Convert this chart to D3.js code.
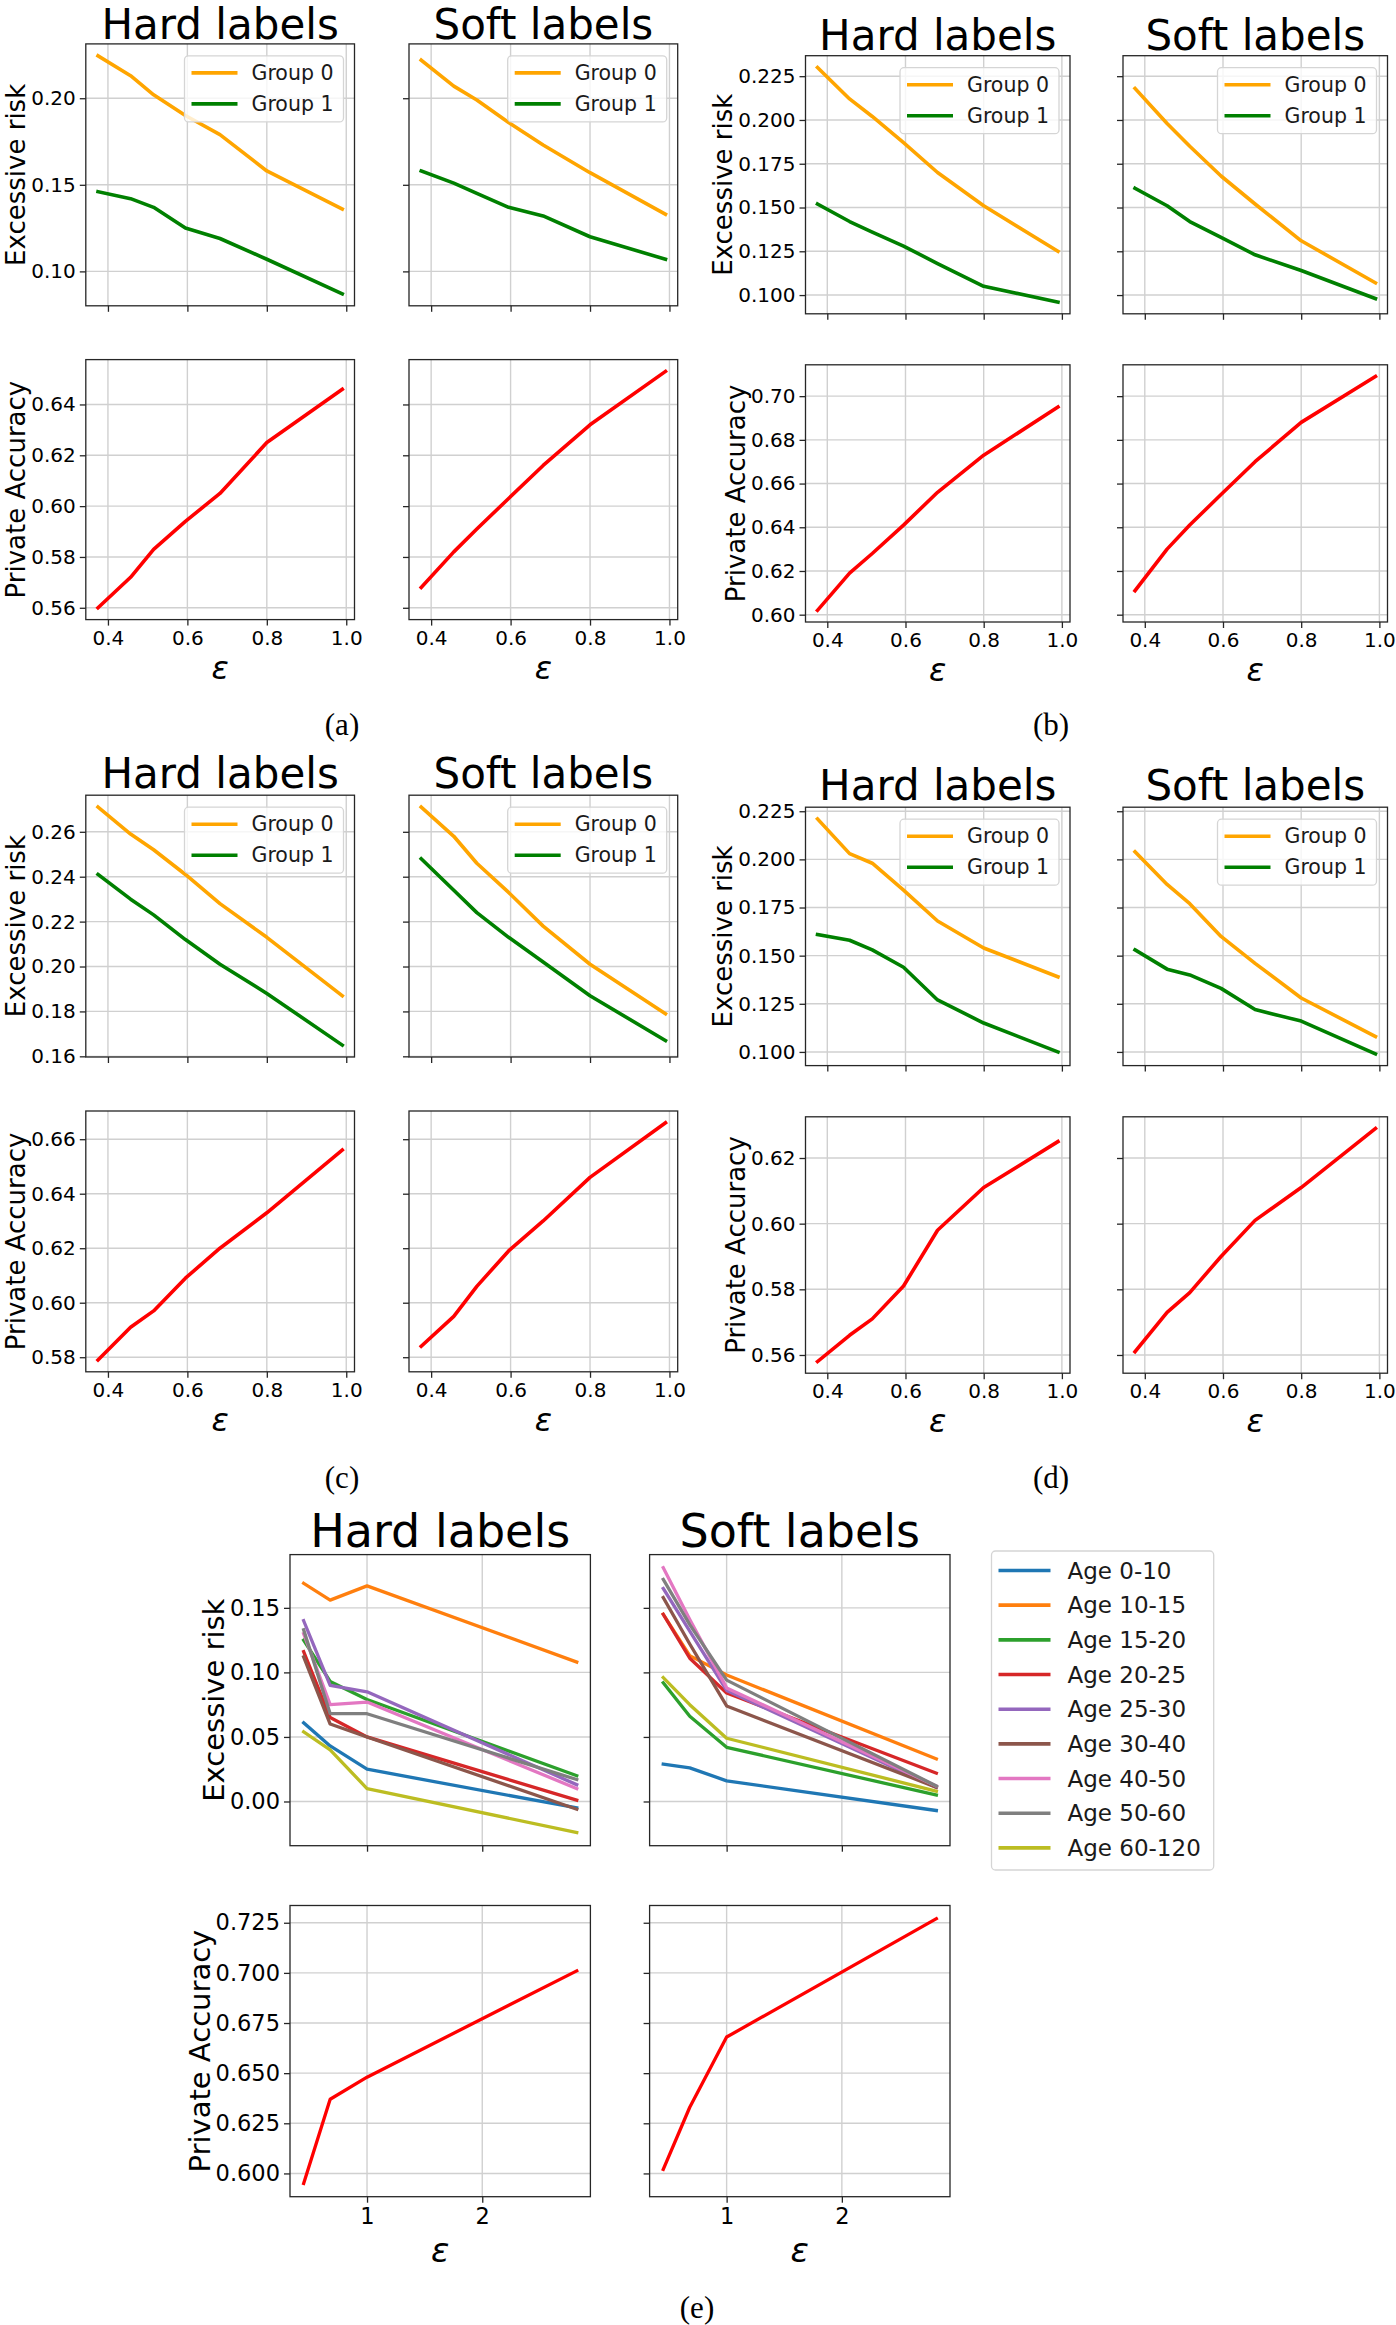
<!DOCTYPE html>
<html><head><meta charset="utf-8">
<script src="https://cdn.jsdelivr.net/npm/d3@7"></script>
<style>body{margin:0;background:#fff}</style>
</head><body>
<svg id="chart" width="1396" height="2325" xmlns="http://www.w3.org/2000/svg"></svg>
<script>
// ================= DATA =================
const epsilonAD = [0.375, 0.457, 0.515, 0.595, 0.682, 0.8, 0.99];
const xTickValuesAD = [0.4, 0.6, 0.8, 1.0];
const groupNames = ["Group 0", "Group 1"];

// (a)
const aHardG0 = [0.2245, 0.213, 0.202, 0.190, 0.179, 0.158, 0.136];
const aHardG1 = [0.146, 0.142, 0.137, 0.125, 0.119, 0.107, 0.087];
const aSoftG0 = [0.222, 0.207, 0.199, 0.186, 0.173, 0.157, 0.133];
const aSoftG1 = [0.158, 0.151, 0.145, 0.137, 0.132, 0.120, 0.107];
const aHardAcc = [0.560, 0.572, 0.583, 0.594, 0.605, 0.625, 0.646];
const aSoftAcc = [0.568, 0.582, 0.591, 0.603, 0.616, 0.632, 0.653];
const aRiskTicks = [0.10, 0.15, 0.20];
const aAccTicks = [0.56, 0.58, 0.60, 0.62, 0.64];

// (b)
const bHardG0 = [0.230, 0.212, 0.202, 0.187, 0.170, 0.151, 0.125];
const bHardG1 = [0.152, 0.142, 0.136, 0.128, 0.118, 0.105, 0.096];
const bSoftG0 = [0.218, 0.198, 0.185, 0.168, 0.152, 0.131, 0.107];
const bSoftG1 = [0.161, 0.151, 0.142, 0.133, 0.123, 0.114, 0.098];
const bHardAcc = [0.602, 0.619, 0.628, 0.641, 0.656, 0.673, 0.695];
const bSoftAcc = [0.611, 0.630, 0.641, 0.655, 0.670, 0.688, 0.709];
const bRiskTicks = [0.100, 0.125, 0.150, 0.175, 0.200, 0.225];
const bAccTicks = [0.60, 0.62, 0.64, 0.66, 0.68, 0.70];

// (c)
const cHardG0 = [0.271, 0.259, 0.252, 0.241, 0.228, 0.213, 0.187];
const cHardG1 = [0.241, 0.230, 0.223, 0.212, 0.201, 0.188, 0.165];
const cSoftG0 = [0.271, 0.258, 0.246, 0.233, 0.218, 0.201, 0.179];
const cSoftG1 = [0.248, 0.234, 0.224, 0.213, 0.202, 0.187, 0.167];
const cHardAcc = [0.579, 0.591, 0.597, 0.609, 0.620, 0.633, 0.656];
const cSoftAcc = [0.584, 0.595, 0.606, 0.619, 0.630, 0.646, 0.666];
const cRiskTicks = [0.16, 0.18, 0.20, 0.22, 0.24, 0.26];
const cAccTicks = [0.58, 0.60, 0.62, 0.64, 0.66];

// (d)
const dHardG0 = [0.221, 0.203, 0.198, 0.184, 0.168, 0.154, 0.139];
const dHardG1 = [0.161, 0.158, 0.153, 0.144, 0.127, 0.115, 0.100];
const dSoftG0 = [0.204, 0.187, 0.177, 0.160, 0.146, 0.128, 0.108];
const dSoftG1 = [0.153, 0.143, 0.140, 0.133, 0.122, 0.116, 0.099];
const dHardAcc = [0.558, 0.566, 0.571, 0.581, 0.598, 0.611, 0.625];
const dSoftAcc = [0.561, 0.573, 0.579, 0.590, 0.601, 0.611, 0.629];
const dRiskTicks = [0.100, 0.125, 0.150, 0.175, 0.200, 0.225];
const dAccTicks = [0.56, 0.58, 0.60, 0.62];

// (e)
const epsilonE = [0.45, 0.68, 1.0, 2.82];
const xTickValuesE = [1, 2];
const ageGroups = ["Age 0-10", "Age 10-15", "Age 15-20", "Age 20-25", "Age 25-30",
                   "Age 30-40", "Age 40-50", "Age 50-60", "Age 60-120"];
const eHardRisk = [
  [0.061, 0.043, 0.025, -0.005],
  [0.169, 0.156, 0.167, 0.108],
  [0.125, 0.093, 0.079, 0.020],
  [0.116, 0.065, 0.050, 0.001],
  [0.140, 0.090, 0.085, 0.013],
  [0.112, 0.060, 0.050, -0.006],
  [0.130, 0.075, 0.077, 0.010],
  [0.133, 0.068, 0.068, 0.017],
  [0.054, 0.040, 0.010, -0.024]
];
const eSoftRisk = [
  [0.029, 0.026, 0.016, -0.007],
  [0.145, 0.113, 0.098, 0.033],
  [0.092, 0.066, 0.042, 0.005],
  [0.145, 0.111, 0.084, 0.022],
  [0.165, 0.132, 0.086, 0.011],
  [0.158, 0.122, 0.074, 0.011],
  [0.181, 0.141, 0.088, 0.012],
  [0.172, 0.137, 0.094, 0.012],
  [0.096, 0.075, 0.049, 0.008]
];
const eHardAcc = [0.595, 0.637, 0.648, 0.701];
const eSoftAcc = [0.602, 0.633, 0.668, 0.727];
const eRiskTicks = [0.00, 0.05, 0.10, 0.15];
const eAccTicks = [0.600, 0.625, 0.650, 0.675, 0.700, 0.725];

// ================= STYLE =================
const groupColors = ["orange", "green"];
const accColor = "red";
const ageColors = ["#1f77b4", "#ff7f0e", "#2ca02c", "#d62728", "#9467bd",
                   "#8c564b", "#e377c2", "#7f7f7f", "#bcbd22"];
const FONT = "'DejaVu Sans', sans-serif";
const SERIF = "'Liberation Serif', 'Times New Roman', serif";
const GRID = "#d0d0d0";
const SPINE = "#262626";

const svg = d3.select("#chart");

function padDomain(arrays) {
  const all = arrays.flat();
  const lo = d3.min(all), hi = d3.max(all);
  const m = (hi - lo) * 0.05;
  return [lo - m, hi + m];
}

function drawSubplot(cfg) {
  const g = svg.append("g");
  const b = cfg.box;
  const x = d3.scaleLinear().domain(cfg.xDom).range([b.x, b.x + b.w]);
  const y = d3.scaleLinear().domain(cfg.yDom).range([b.y + b.h, b.y]);

  // grid
  g.append("g").selectAll("line").data(cfg.xTicks).join("line")
    .attr("x1", d => x(d)).attr("x2", d => x(d))
    .attr("y1", b.y).attr("y2", b.y + b.h)
    .attr("stroke", GRID).attr("stroke-width", 1.4);
  g.append("g").selectAll("line").data(cfg.yTicks).join("line")
    .attr("y1", d => y(d)).attr("y2", d => y(d))
    .attr("x1", b.x).attr("x2", b.x + b.w)
    .attr("stroke", GRID).attr("stroke-width", 1.4);

  // lines
  const line = d3.line().x((d, i) => x(cfg.xs[i])).y(d => y(d));
  g.append("g").selectAll("path").data(cfg.series).join("path")
    .attr("d", s => line(s.values))
    .attr("fill", "none")
    .attr("stroke", s => s.color)
    .attr("stroke-width", cfg.lw)
    .attr("stroke-linejoin", "round")
    .attr("stroke-linecap", "square");

  // spines
  g.append("rect").attr("x", b.x).attr("y", b.y).attr("width", b.w).attr("height", b.h)
    .attr("fill", "none").attr("stroke", SPINE).attr("stroke-width", 1.3);

  // axes
  const xa = d3.axisBottom(x).tickValues(cfg.xTicks).tickSize(6).tickPadding(5)
    .tickFormat(cfg.showX ? cfg.xFmt : () => "");
  const gx = g.append("g").attr("transform", `translate(0,${b.y + b.h})`).call(xa);
  gx.select(".domain").remove();
  gx.selectAll("line").attr("stroke", SPINE).attr("stroke-width", 1.3);
  gx.selectAll("text").attr("font-size", cfg.tickFs).attr("font-family", FONT).attr("fill", "#000");

  const ya = d3.axisLeft(y).tickValues(cfg.yTicks).tickSize(6).tickPadding(4)
    .tickFormat(cfg.showY ? cfg.yFmt : () => "");
  const gy = g.append("g").attr("transform", `translate(${b.x},0)`).call(ya);
  gy.select(".domain").remove();
  gy.selectAll("line").attr("stroke", SPINE).attr("stroke-width", 1.3);
  gy.selectAll("text").attr("font-size", cfg.tickFs).attr("font-family", FONT).attr("fill", "#000");

  if (cfg.ylabel) {
    const bb = gy.node().getBBox();
    const bx = b.x + bb.x - 6;
    g.append("text")
      .attr("transform", `translate(${bx},${b.y + b.h / 2}) rotate(-90)`)
      .attr("text-anchor", "middle")
      .attr("font-family", FONT).attr("font-size", cfg.ylabelFs)
      .text(cfg.ylabel);
  }
  if (cfg.title) {
    g.append("text").attr("x", b.x + b.w / 2).attr("y", cfg.titleY)
      .attr("text-anchor", "middle").attr("font-family", FONT).attr("font-size", cfg.titleFs)
      .text(cfg.title);
  }
  if (cfg.xlabel) {
    g.append("text").attr("x", b.x + b.w / 2).attr("y", b.y + b.h + cfg.xlabelOff)
      .attr("text-anchor", "middle").attr("dy", "0.35em")
      .attr("font-family", FONT).attr("font-style", "italic").attr("font-size", cfg.xlabelFs)
      .text("ε");
  }
  return g;
}

function drawLegend(lx, ly, lw, lh, items, fs, rowTop, rowStep, sx0, sx1, tx) {
  const g = svg.append("g");
  g.append("rect").attr("x", lx).attr("y", ly).attr("width", lw).attr("height", lh)
    .attr("rx", 4).attr("fill", "#fff").attr("fill-opacity", 0.8)
    .attr("stroke", "#d5d5d5").attr("stroke-width", 1.3);
  const row = g.selectAll("g").data(items).join("g")
    .attr("transform", (d, i) => `translate(${lx},${ly + rowTop + i * rowStep})`);
  row.append("line").attr("x1", sx0).attr("x2", sx1).attr("y1", 0).attr("y2", 0)
    .attr("stroke", d => d.color).attr("stroke-width", 3.6);
  row.append("text").attr("x", tx).attr("y", 0).attr("dy", "0.35em")
    .attr("font-family", FONT).attr("font-size", fs).attr("fill", "#1a1a1a")
    .text(d => d.name);
}

// ============ panels (a)-(d) ============
const panelsAD = [
  {letter: "(a)", hard: [aHardG0, aHardG1], soft: [aSoftG0, aSoftG1], hardAcc: aHardAcc, softAcc: aSoftAcc,
   riskTicks: aRiskTicks, accTicks: aAccTicks, riskFmt: ".2f", accFmt: ".2f",
   hx: 85.8, sx: 409, w: 268.7, topY: 43.9, topH: 261.9, botY: 359.6, botH: 260, titleY: 38.7, letterPos: [342, 724]},
  {letter: "(b)", hard: [bHardG0, bHardG1], soft: [bSoftG0, bSoftG1], hardAcc: bHardAcc, softAcc: bSoftAcc,
   riskTicks: bRiskTicks, accTicks: bAccTicks, riskFmt: ".3f", accFmt: ".2f",
   hx: 805.5, sx: 1123, w: 264.5, topY: 55.7, topH: 258.1, botY: 364.8, botH: 257.2, titleY: 49.5, letterPos: [1051, 724]},
  {letter: "(c)", hard: [cHardG0, cHardG1], soft: [cSoftG0, cSoftG1], hardAcc: cHardAcc, softAcc: cSoftAcc,
   riskTicks: cRiskTicks, accTicks: cAccTicks, riskFmt: ".2f", accFmt: ".2f",
   hx: 85.8, sx: 409, w: 268.7, topY: 795.2, topH: 261.8, botY: 1111, botH: 260.8, titleY: 788, letterPos: [342, 1477]},
  {letter: "(d)", hard: [dHardG0, dHardG1], soft: [dSoftG0, dSoftG1], hardAcc: dHardAcc, softAcc: dSoftAcc,
   riskTicks: dRiskTicks, accTicks: dAccTicks, riskFmt: ".3f", accFmt: ".2f",
   hx: 805.5, sx: 1123, w: 264.5, topY: 807.2, topH: 258.4, botY: 1116.8, botH: 256.4, titleY: 800, letterPos: [1051, 1477]}
];

panelsAD.forEach(p => {
  const xDom = padDomain([epsilonAD]);
  const riskDom = padDomain([...p.hard, ...p.soft]);
  const accDom = padDomain([p.hardAcc, p.softAcc]);
  const common = {xs: epsilonAD, xDom, xTicks: xTickValuesAD, xFmt: d3.format(".1f"),
                  lw: 3.6, tickFs: 20, ylabelFs: 26, titleFs: 42, xlabelFs: 32, xlabelOff: 48};
  const mkSeries = arr => arr.map((v, i) => ({values: v, color: groupColors[i]}));
  [["hard", p.hx, "Hard labels", true], ["soft", p.sx, "Soft labels", false]].forEach(([k, bx, title, left]) => {
    drawSubplot({...common, box: {x: bx, y: p.topY, w: p.w, h: p.topH}, yDom: riskDom,
      yTicks: p.riskTicks, yFmt: d3.format(p.riskFmt), showX: false, showY: left,
      series: mkSeries(p[k]), ylabel: left ? "Excessive risk" : null, title, titleY: p.titleY});
    drawSubplot({...common, box: {x: bx, y: p.botY, w: p.w, h: p.botH}, yDom: accDom,
      yTicks: p.accTicks, yFmt: d3.format(p.accFmt), showX: true, showY: left,
      series: [{values: k === "hard" ? p.hardAcc : p.softAcc, color: accColor}],
      ylabel: left ? "Private Accuracy" : null, xlabel: true});
    const lwid = 159, lhgt = 66;
    drawLegend(bx + p.w - 11 - lwid, p.topY + 12, lwid, lhgt,
      groupNames.map((n, i) => ({name: n, color: groupColors[i]})), 20.5, 17, 31, 7, 53, 67);
  });
  svg.append("text").attr("x", p.letterPos[0]).attr("y", p.letterPos[1]).attr("dy", "0.35em")
    .attr("text-anchor", "middle").attr("font-family", SERIF).attr("font-size", 31).text(p.letter);
});

// ============ panel (e) ============
{
  const xDom = padDomain([epsilonE]);
  const riskDom = padDomain([...eHardRisk, ...eSoftRisk]);
  const accDom = padDomain([eHardAcc, eSoftAcc]);
  const common = {xs: epsilonE, xDom, xTicks: xTickValuesE, xFmt: d3.format("d"),
                  lw: 3.3, tickFs: 22.5, ylabelFs: 29, titleFs: 46, xlabelFs: 34, xlabelOff: 53};
  const boxes = [[290, true, "Hard labels", eHardRisk, eHardAcc], [649.6, false, "Soft labels", eSoftRisk, eSoftAcc]];
  boxes.forEach(([bx, left, title, risk, acc]) => {
    drawSubplot({...common, box: {x: bx, y: 1554.6, w: 300.4, h: 291.1}, yDom: riskDom,
      yTicks: eRiskTicks, yFmt: d3.format(".2f"), showX: false, showY: left,
      series: risk.map((v, i) => ({values: v, color: ageColors[i]})),
      ylabel: left ? "Excessive risk" : null, title, titleY: 1547});
    drawSubplot({...common, box: {x: bx, y: 1905.5, w: 300.4, h: 291.2}, yDom: accDom,
      yTicks: eAccTicks, yFmt: d3.format(".3f"), showX: true, showY: left,
      series: [{values: acc, color: accColor}],
      ylabel: left ? "Private Accuracy" : null, xlabel: true});
  });
  drawLegend(991.5, 1551, 222.2, 319, ageGroups.map((n, i) => ({name: n, color: ageColors[i]})),
    23, 19.5, 34.67, 7, 59, 76);
  svg.append("text").attr("x", 697).attr("y", 2307).attr("dy", "0.35em")
    .attr("text-anchor", "middle").attr("font-family", SERIF).attr("font-size", 31).text("(e)");
}
</script>
</body></html>
